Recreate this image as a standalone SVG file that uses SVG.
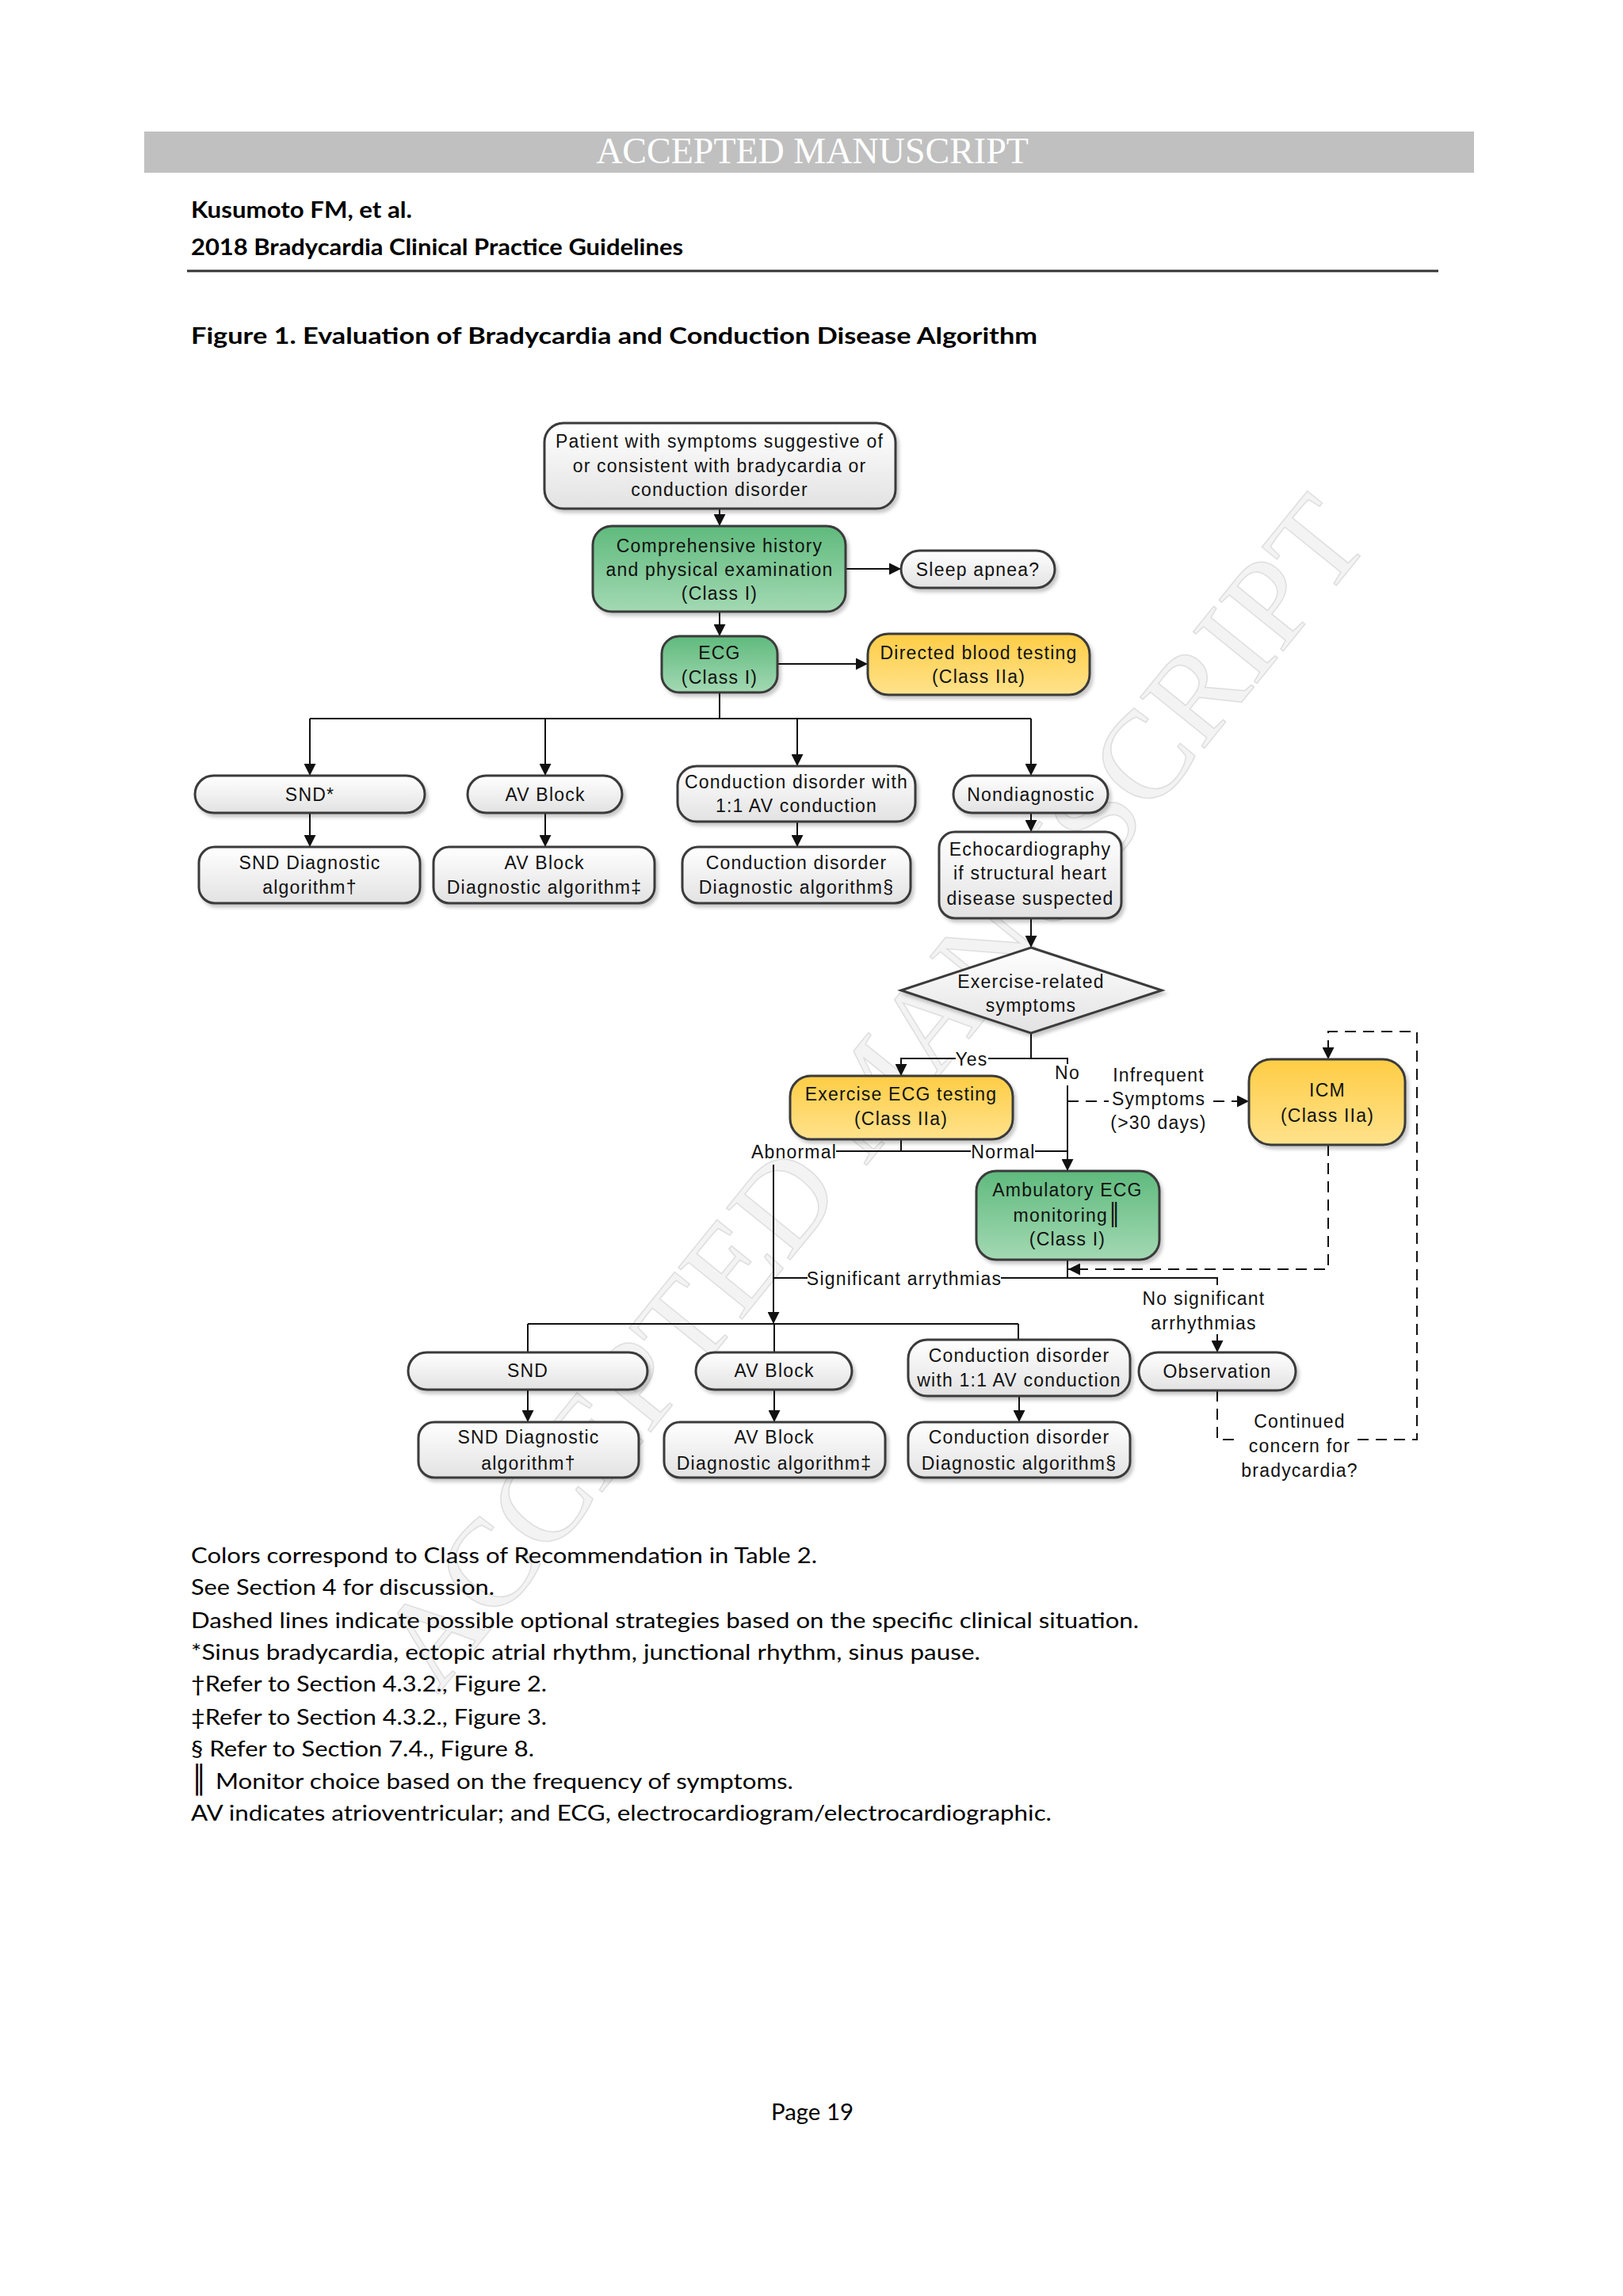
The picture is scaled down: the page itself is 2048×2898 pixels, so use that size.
<svg xmlns="http://www.w3.org/2000/svg" width="2048" height="2898" viewBox="0 0 2048 2898">
<defs>
<linearGradient id="gw" x1="0" y1="0" x2="0" y2="1"><stop offset="0" stop-color="#ffffff"/><stop offset="1" stop-color="#e2e2e2"/></linearGradient>
<linearGradient id="gg" x1="0" y1="0" x2="0" y2="1"><stop offset="0" stop-color="#5fba7d"/><stop offset="1" stop-color="#a3d9b3"/></linearGradient>
<linearGradient id="gy" x1="0" y1="0" x2="0" y2="1"><stop offset="0" stop-color="#fecd45"/><stop offset="1" stop-color="#ffe28c"/></linearGradient>
<filter id="sh" x="-10%" y="-10%" width="130%" height="140%"><feDropShadow dx="3" dy="4" stdDeviation="2" flood-color="#000" flood-opacity="0.22"/></filter>
<marker id="ah" viewBox="0 0 10 10" refX="10" refY="5" markerWidth="15" markerHeight="15" markerUnits="userSpaceOnUse" orient="auto"><path d="M0,0 L10,5 L0,10 z" fill="#111"/></marker>
<style>
.box{stroke:#3a3a3a;stroke-width:3;filter:url(#sh)}
.w{fill:url(#gw)}
.g{fill:url(#gg)}
.y{fill:url(#gy)}
.t{font-family:"Liberation Sans",Arial,sans-serif;font-size:23px;letter-spacing:1.2px;text-anchor:middle;fill:#111}
.ln{fill:none;stroke:#111;stroke-width:2}
.ar{marker-end:url(#ah)}
.ds{stroke-dasharray:14 9}
.cal{font-family:Lato,"Liberation Sans",sans-serif;fill:#000}
.fn{font-size:26px}
.bar{font-family:"DejaVu Sans",sans-serif}
</style>
</defs>
<rect x="0" y="0" width="2048" height="2898" fill="#ffffff"/>

<g id="watermark">
<text x="1142" y="1411" transform="rotate(-51 1142 1411)" text-anchor="middle" font-family="Liberation Serif,serif" font-size="158" fill="#f3f3f3" stroke="#dedede" stroke-width="1.5">ACCEPTED MANUSCRIPT</text>
</g>

<g id="header">
<rect x="182" y="166" width="1678" height="52" fill="#c0c0c0"/>
<text x="1025" y="206" text-anchor="middle" font-family="Liberation Serif,serif" font-size="46" fill="#ffffff">ACCEPTED MANUSCRIPT</text>
<text class="cal" x="241" y="275" font-size="28" font-weight="bold" textLength="279" lengthAdjust="spacingAndGlyphs">Kusumoto FM, et al.</text>
<text class="cal" x="241" y="322" font-size="28" font-weight="bold" textLength="621" lengthAdjust="spacingAndGlyphs">2018 Bradycardia Clinical Practice Guidelines</text>
<line x1="236" y1="342" x2="1815" y2="342" stroke="#333" stroke-width="3"/>
<text class="cal" x="241" y="434" font-size="29" font-weight="bold" textLength="1068" lengthAdjust="spacingAndGlyphs">Figure 1. Evaluation of Bradycardia and Conduction Disease Algorithm</text>
</g>

<g id="connectors">
<path class="ln ar" d="M908,642 V664"/>
<path class="ln ar" d="M1067,718 H1137"/>
<path class="ln ar" d="M908,772 V803"/>
<path class="ln ar" d="M981,838 H1095"/>
<path class="ln" d="M908,874 V907 M391,907 H1301"/>
<path class="ln ar" d="M391,907 V979"/>
<path class="ln ar" d="M688,907 V979"/>
<path class="ln ar" d="M1006,907 V967"/>
<path class="ln ar" d="M1301,907 V979"/>
<path class="ln ar" d="M391,1026 V1069"/>
<path class="ln ar" d="M688,1026 V1069"/>
<path class="ln ar" d="M1006,1037 V1069"/>
<path class="ln ar" d="M1301,1026 V1050"/>
<path class="ln ar" d="M1301,1159 V1196"/>
<path class="ln" d="M1301,1304 V1336 H1247 M1301,1336 H1347 V1343"/>
<path class="ln ar" d="M1206,1336 H1137 V1358"/>
<path class="ln ar" d="M1347,1370 V1478"/>
<path class="ln ds" d="M1347,1390 H1399"/>
<path class="ln ds ar" d="M1531,1390 H1576"/>
<path class="ln" d="M1137,1438 V1453 H1055 M1137,1453 H1225 M1306,1453 H1347"/>
<path class="ln ar" d="M976,1470 V1671"/>
<path class="ln" d="M976,1613 H1019 M1263,1613 H1536 V1622 M1347,1590 V1613"/>
<path class="ln ds ar" d="M1676,1445 V1602 H1348"/>
<path class="ln ar" d="M1536,1684 V1707"/>
<path class="ln ds" d="M1536,1755 V1817 H1565"/>
<path class="ln ds ar" d="M1713,1817 H1788 V1302 H1676 V1337"/>
<path class="ln" d="M666,1671 H1285 M666,1671 V1707 M977,1671 V1707 M1285,1671 V1691"/>
<path class="ln ar" d="M666,1754 V1795"/>
<path class="ln ar" d="M977,1754 V1795"/>
<path class="ln ar" d="M1286,1762 V1795"/>
</g>

<g id="labels">
<text class="t" x="1226" y="1345">Yes</text>
<text class="t" x="1347" y="1362">No</text>
<text class="t" x="1462" y="1365">Infrequent</text>
<text class="t" x="1462" y="1395">Symptoms</text>
<text class="t" x="1462" y="1425">(&gt;30 days)</text>
<text class="t" x="1002" y="1462">Abnormal</text>
<text class="t" x="1266" y="1462">Normal</text>
<text class="t" x="1141" y="1622">Significant arrythmias</text>
<text class="t" x="1519" y="1647">No significant</text>
<text class="t" x="1519" y="1678">arrhythmias</text>
<text class="t" x="1640" y="1802">Continued</text>
<text class="t" x="1640" y="1833">concern for</text>
<text class="t" x="1640" y="1864">bradycardia?</text>
</g>

<g id="n-patient"><rect class="box w" x="687" y="534" width="443" height="108" rx="24"/>
<text class="t" x="908" y="565">Patient with symptoms suggestive of</text>
<text class="t" x="908" y="596">or consistent with bradycardia or</text>
<text class="t" x="908" y="626">conduction disorder</text></g>

<g id="n-comp"><rect class="box g" x="748" y="664" width="319" height="108" rx="24"/>
<text class="t" x="908" y="697">Comprehensive history</text>
<text class="t" x="908" y="727">and physical examination</text>
<text class="t" x="908" y="757">(Class I)</text></g>

<g id="n-sleep"><rect class="box w" x="1137" y="695" width="194" height="47" rx="23.5"/>
<text class="t" x="1234" y="727">Sleep apnea?</text></g>

<g id="n-ecg"><rect class="box g" x="835" y="803" width="146" height="71" rx="22"/>
<text class="t" x="908" y="832">ECG</text>
<text class="t" x="908" y="863">(Class I)</text></g>

<g id="n-blood"><rect class="box y" x="1095" y="800" width="280" height="77" rx="26"/>
<text class="t" x="1235" y="832">Directed blood testing</text>
<text class="t" x="1235" y="862">(Class IIa)</text></g>

<g id="n-snd1"><rect class="box w" x="246" y="979" width="290" height="47" rx="23.5"/>
<text class="t" x="391" y="1011">SND*</text></g>

<g id="n-av1"><rect class="box w" x="590" y="979" width="195" height="47" rx="23.5"/>
<text class="t" x="688" y="1011">AV Block</text></g>

<g id="n-cd1"><rect class="box w" x="855" y="967" width="300" height="70" rx="24"/>
<text class="t" x="1005" y="995">Conduction disorder with</text>
<text class="t" x="1005" y="1025">1:1 AV conduction</text></g>

<g id="n-nondiag"><rect class="box w" x="1203" y="979" width="195" height="47" rx="23.5"/>
<text class="t" x="1301" y="1011">Nondiagnostic</text></g>

<g id="n-snddx1"><rect class="box w" x="251" y="1069" width="279" height="71" rx="20"/>
<text class="t" x="391" y="1097">SND Diagnostic</text>
<text class="t" x="391" y="1128">algorithm†</text></g>

<g id="n-avdx1"><rect class="box w" x="547" y="1069" width="279" height="71" rx="20"/>
<text class="t" x="687" y="1097">AV Block</text>
<text class="t" x="687" y="1128">Diagnostic algorithm‡</text></g>

<g id="n-cddx1"><rect class="box w" x="861" y="1069" width="288" height="71" rx="20"/>
<text class="t" x="1005" y="1097">Conduction disorder</text>
<text class="t" x="1005" y="1128">Diagnostic algorithm§</text></g>

<g id="n-echo"><rect class="box w" x="1185" y="1050" width="230" height="109" rx="20"/>
<text class="t" x="1300" y="1080">Echocardiography</text>
<text class="t" x="1300" y="1110">if structural heart</text>
<text class="t" x="1300" y="1142">disease suspected</text></g>

<g id="n-exercise-q"><polygon class="box w" points="1301,1196 1466,1250 1301,1304 1137,1250"/>
<text class="t" x="1301" y="1247">Exercise-related</text>
<text class="t" x="1301" y="1277">symptoms</text></g>

<g id="n-exercise"><rect class="box y" x="997" y="1358" width="281" height="80" rx="26"/>
<text class="t" x="1137" y="1389">Exercise ECG testing</text>
<text class="t" x="1137" y="1420">(Class IIa)</text></g>

<g id="n-icm"><rect class="box y" x="1576" y="1337" width="197" height="108" rx="28"/>
<text class="t" x="1675" y="1384">ICM</text>
<text class="t" x="1675" y="1416">(Class IIa)</text></g>

<g id="n-amb"><rect class="box g" x="1232" y="1478" width="231" height="112" rx="25"/>
<text class="t" x="1347" y="1510">Ambulatory ECG</text>
<text class="t" x="1347" y="1542">monitoring<tspan class="bar" font-size="27">║</tspan></text>
<text class="t" x="1347" y="1572">(Class I)</text></g>

<g id="n-snd2"><rect class="box w" x="515" y="1707" width="302" height="47" rx="23.5"/>
<text class="t" x="666" y="1738">SND</text></g>

<g id="n-av2"><rect class="box w" x="878" y="1707" width="197" height="47" rx="23.5"/>
<text class="t" x="977" y="1738">AV Block</text></g>

<g id="n-cd2"><rect class="box w" x="1146" y="1691" width="280" height="71" rx="24"/>
<text class="t" x="1286" y="1719">Conduction disorder</text>
<text class="t" x="1286" y="1750">with 1:1 AV conduction</text></g>

<g id="n-obs"><rect class="box w" x="1437" y="1707" width="198" height="48" rx="24"/>
<text class="t" x="1536" y="1739">Observation</text></g>

<g id="n-snddx2"><rect class="box w" x="528" y="1795" width="278" height="70" rx="20"/>
<text class="t" x="667" y="1822">SND Diagnostic</text>
<text class="t" x="667" y="1855">algorithm†</text></g>

<g id="n-avdx2"><rect class="box w" x="838" y="1795" width="279" height="70" rx="20"/>
<text class="t" x="977" y="1822">AV Block</text>
<text class="t" x="977" y="1855">Diagnostic algorithm‡</text></g>

<g id="n-cddx2"><rect class="box w" x="1146" y="1795" width="280" height="70" rx="20"/>
<text class="t" x="1286" y="1822">Conduction disorder</text>
<text class="t" x="1286" y="1855">Diagnostic algorithm§</text></g>

<g id="footnotes" class="cal fn">
<text x="241" y="1973" textLength="790" lengthAdjust="spacingAndGlyphs">Colors correspond to Class of Recommendation in Table 2.</text>
<text x="241" y="2013" textLength="383" lengthAdjust="spacingAndGlyphs">See Section 4 for discussion.</text>
<text x="241" y="2055" textLength="1196" lengthAdjust="spacingAndGlyphs">Dashed lines indicate possible optional strategies based on the specific clinical situation.</text>
<text x="241" y="2095" textLength="996" lengthAdjust="spacingAndGlyphs">*Sinus bradycardia, ectopic atrial rhythm, junctional rhythm, sinus pause.</text>
<text x="241" y="2135" textLength="449" lengthAdjust="spacingAndGlyphs">†Refer to Section 4.3.2., Figure 2.</text>
<text x="241" y="2177" textLength="449" lengthAdjust="spacingAndGlyphs">‡Refer to Section 4.3.2., Figure 3.</text>
<text x="241" y="2217" textLength="433" lengthAdjust="spacingAndGlyphs">§ Refer to Section 7.4., Figure 8.</text>
<text x="241" y="2258"><tspan class="bar" font-size="34">║</tspan><tspan x="272" textLength="729" lengthAdjust="spacingAndGlyphs">Monitor choice based on the frequency of symptoms.</tspan></text>
<text x="241" y="2298" textLength="1086" lengthAdjust="spacingAndGlyphs">AV indicates atrioventricular; and ECG, electrocardiogram/electrocardiographic.</text>
</g>

<g id="footer">
<text class="cal" x="973" y="2676" font-size="29" textLength="104" lengthAdjust="spacingAndGlyphs">Page 19</text>
</g>
</svg>
